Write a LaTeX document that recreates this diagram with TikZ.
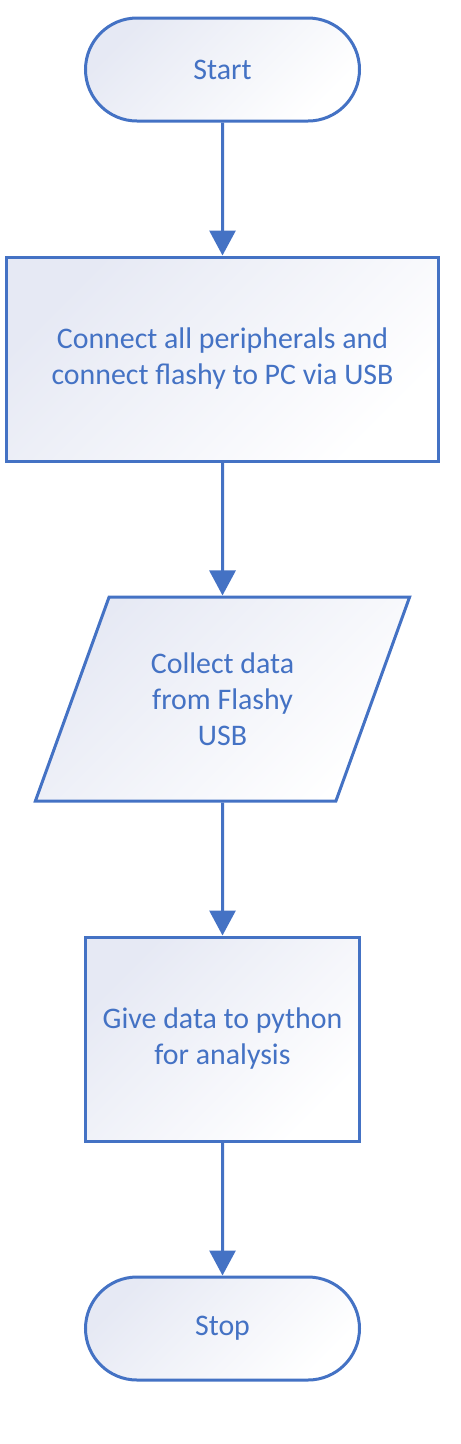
\documentclass[tikz,border=0pt]{standalone}
\usepackage{fontspec}
\setmainfont{Carlito}
\usepackage{tikz}
\usetikzlibrary{arrows.meta}
\usetikzlibrary{shapes.misc}
\usetikzlibrary{shapes.geometric}

\definecolor{flowblue}{HTML}{4472C4}
\definecolor{flowshade}{HTML}{E6E9F4}

\begin{document}
\begin{tikzpicture}[
        box/.style={draw=flowblue, line width=0.06cm, text=flowblue,
            top color=flowshade, bottom color=white, shading angle=45,
            align=center, inner sep=0pt,
            font=\fontsize{17pt}{20.5pt}\selectfont},
        terminal/.style={box, rounded rectangle, minimum width=5.48cm,
            minimum height=2.06cm},
        process/.style={box, rectangle, minimum height=4.08cm},
        inout/.style={box, trapezium, trapezium left angle=63.4,
            trapezium right angle=116.6, trapezium stretches=true,
            minimum width=7.5cm, minimum height=4.08cm},
        flow/.style={draw=flowblue, line width=0.06cm,
            -{Triangle[length=0.5cm, width=0.52cm]}}
    ]

        \useasboundingbox (0,0) rectangle (9.22,-28.88);

        \node[terminal] (start) at (4.45, -1.39) {Start};

        \node[process, minimum width=8.62cm] (connect) at (4.45, -7.18)
        {Connect all peripherals and\\connect flashy to PC via USB};

        \node[inout] (collect) at (4.45, -13.98)
        {Collect data\\from Flashy\\USB};

        \node[process, minimum width=5.48cm] (python) at (4.45, -20.78)
        {Give data to python\\for analysis};

        \node[terminal] (stop) at (4.45, -26.57) {Stop};

        \draw[flow] (start) -- (connect); \draw[flow] (connect) -- (collect);
        \draw[flow] (collect) -- (python); \draw[flow] (python) -- (stop);
    \end{tikzpicture}
\end{document}
